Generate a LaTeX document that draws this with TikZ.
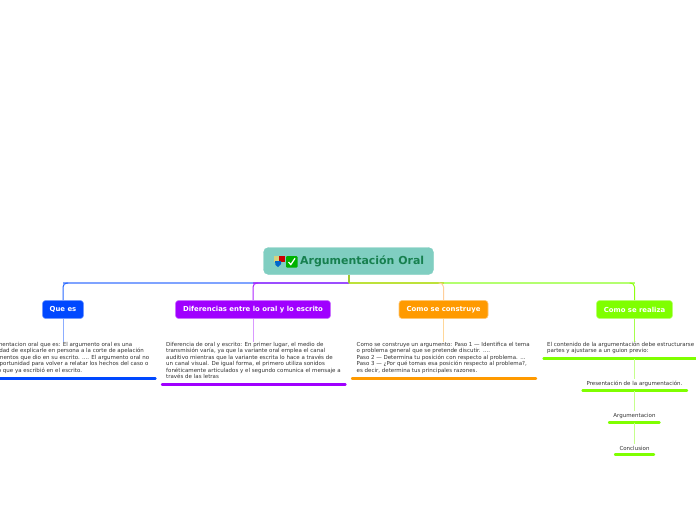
\documentclass[tikz,border=0pt]{standalone}
\usepackage{fontspec}
\usetikzlibrary{calc}
\setmainfont{DejaVu Sans}
\definecolor{cblue}{HTML}{0048FF}
\definecolor{cpurple}{HTML}{A000FF}
\definecolor{corange}{HTML}{FF9A00}
\definecolor{clime}{HTML}{7FFF00}
\definecolor{croot}{HTML}{80CEC1}
\definecolor{ctitle}{HTML}{17804F}
\definecolor{hblue}{HTML}{7FA3FF}
\definecolor{vblue}{HTML}{2A6AFF}
\definecolor{hpurple}{HTML}{9B4DFF}
\definecolor{hyellow}{HTML}{BDE23A}
\definecolor{hlime}{HTML}{B4FF70}
\definecolor{vlime}{HTML}{8FFF10}
\definecolor{vorange}{HTML}{FFCF9A}
\definecolor{hstem}{HTML}{A0C830}
\tikzset{
  x=1pt,y=-1pt,
  rootbox/.style={draw=croot,fill=croot,rounded corners=5pt,minimum width=170pt,minimum height=27pt,inner sep=0pt},
  topic/.style={draw=#1!55!white,line width=.6pt,fill=#1,rounded corners=3pt,minimum height=18pt,inner sep=0pt,text=white,font=\fontsize{6.9}{8}\selectfont\bfseries},
  body/.style={anchor=north west,inner sep=0pt,align=left,text=black!80,font=\fontsize{5.5}{6.55}\selectfont},
  small/.style={inner sep=0pt,text=black!80,font=\fontsize{5.5}{6.6}\selectfont},
  uline/.style={draw=#1,line width=2.4pt,line cap=round},
  stem/.style={draw=#1,line width=.9pt},
  hline/.style={draw=#1,line width=1.2pt},
  corner/.style={draw=#1,line width=1pt,rounded corners=4pt},
}
\begin{document}
\begin{tikzpicture}
\useasboundingbox (0,0) rectangle (696,520);
\clip (0,0) rectangle (696,520);
\fill[white] (0,0) rectangle (696,520);

% root
\node[rootbox] (root) at (348.5,261) {};
\node[anchor=west,inner sep=0pt,text=ctitle,font=\fontsize{10.95}{12}\selectfont\bfseries] (title) at (300,261.5) {Argumentación Oral};
% icons
\fill[black!30!yellow!60!white] (274,256) rectangle (279.5,261.5);
\fill[red!80!black] (279,255.5) rectangle (285,262);
\fill[blue!50!cyan!80!black] (275,261) -- (281,261) -- (281,264) -- (278,267) -- (275.5,265) -- cycle;
\fill[green!70!black,rounded corners=1pt] (286,256) rectangle (297.5,267.5);
\draw[white,line width=1.2pt] (288.5,262) -- (290.8,264.6) -- (295,258.3);

% topics
\node[topic=cblue,minimum width=41pt] (que) at (63,309.5) {Que es};
\node[topic=cpurple,minimum width=155pt] (dif) at (253,309.5) {Diferencias entre lo oral y lo escrito};
\node[topic=corange,minimum width=89pt] (con) at (443.5,309.5) {Como se construye};
\node[topic=clime,minimum width=76pt] (rea) at (634.5,309.5) {Como se realiza};

% junction
\coordinate (hub) at (349,283);
% branches
\draw[hline=hlime] (con.north |- hub) -- (rea.north |- hub);
\draw[hline=hblue] (dif.north |- hub) -- (que.north |- hub);
\draw[hline=hpurple] (hub) -- (dif.north |- hub);
\draw[hline=hyellow] (hub) -- (con.north |- hub);
\draw[corner=vblue] ($(que.north |- hub)+(5,0)$) -- (que.north |- hub) -- (que.north);
\draw[corner=cpurple!85!white] ($(dif.north |- hub)+(5,0)$) -- (dif.north |- hub) -- (dif.north);
\draw[corner=vorange] ($(con.north |- hub)+(-5,0)$) -- (con.north |- hub) -- (con.north);
\draw[corner=vlime] ($(rea.north |- hub)+(-5,0)$) -- (rea.north |- hub) -- (rea.north);
\draw[line width=1.3pt,draw=hstem] (root.south -| hub) -- (hub);

% texts
\node[body] (tque) at (-24,341.8) {\hspace*{8pt}Argumentacion oral que es: El argumento oral es una\\oportunidad de explicarle en persona a la corte de apelación\\los argumentos que dio en su escrito. .... El argumento oral no\\es una oportunidad para volver a relatar los hechos del caso o\\repetir lo que ya escribió en el escrito.};
\node[body] (tdif) at (166,341.8) {Diferencia de oral y escrito: En primer lugar, el medio de\\transmisión varía, ya que la variante oral emplea el canal\\auditivo mientras que la variante escrita lo hace a través de\\un canal visual. De igual forma, el primero utiliza sonidos\\fonéticamente articulados y el segundo comunica el mensaje a\\través de las letras};
\node[body] (tcon) at (356.5,341.8) {Como se construye un argumento: Paso 1 — Identifica el tema\\o problema general que se pretende discutir. ....\\Paso 2 — Determina tu posición con respecto al problema. ...\\Paso 3 — ¿Por qué tomas esa posición respecto al problema?,\\es decir, determina tus principales razones.};
\node[body] (trea) at (547,341.8) {El contenido de la argumentación debe estructurarse en\\partes y ajustarse a un guion previo:};
\node[small] (pre) at (634.5,384.3) {Presentación de la argumentación.};
\node[small] (arg) at (634.5,416.3) {Argumentacion};
\node[small] (cnc) at (634.5,448.3) {Conclusion};

% underlines
\coordinate (uq1) at (-30,378.5); \coordinate (uq2) at (155.5,378.5);
\coordinate (ud1) at (162,384.5); \coordinate (ud2) at (345.5,384.5);
\coordinate (uc1) at (352,378.5); \coordinate (uc2) at (536,378.5);
\coordinate (ur1) at (543.5,358.5); \coordinate (ur2) at (730,358.5);
\coordinate (up1) at (582.5,390.5); \coordinate (up2) at (687,390.5);
\coordinate (ua1) at (609,422.5); \coordinate (ua2) at (659.5,422.5);
\coordinate (un1) at (615,454.5); \coordinate (un2) at (654,454.5);
\draw[uline=cblue] (uq1) -- (uq2);
\draw[uline=cpurple] (ud1) -- (ud2);
\draw[uline=corange] (uc1) -- (uc2);
\draw[uline=clime] (ur1) -- (ur2);
\draw[uline=clime] (up1) -- (up2);
\draw[uline=clime] (ua1) -- (ua2);
\draw[uline=clime] (un1) -- (un2);

% stems
\draw[stem=cblue!45!white] (que.south) -- (que.south |- tque.north);
\draw[stem=cpurple!40!white] (dif.south) -- (dif.south |- tdif.north);
\draw[stem=corange!40!white] (con.south) -- (con.south |- tcon.north);
\draw[stem=clime!70!white] (rea.south) -- (rea.south |- trea.north);
\draw[stem=clime!45!white] (rea.south |- ur1) -- ($(pre.north)+(0,-2)$);
\draw[stem=clime!45!white] (rea.south |- up1) -- ($(arg.north)+(0,-2)$);
\draw[stem=clime!45!white] (rea.south |- ua1) -- ($(cnc.north)+(0,-2)$);
\end{tikzpicture}
\end{document}
